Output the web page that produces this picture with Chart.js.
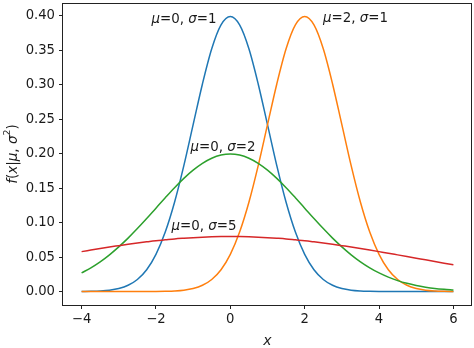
<!DOCTYPE html>
<html>
<head>
<meta charset="utf-8">
<script src="https://cdn.jsdelivr.net/npm/chart.js@4"></script>
<style>
  body { margin: 0; background: #fff; }
  canvas { display: block; }
</style>
</head>
<body>
<canvas id="pdfChart" width="474" height="348"></canvas>
<script>
// sample points along x
const xs = [-4, -3.75, -3.5, -3.25, -3, -2.75, -2.5, -2.25, -2, -1.75, -1.5, -1.25, -1, -0.75, -0.5, -0.25,
    0, 0.25, 0.5, 0.75, 1, 1.25, 1.5, 1.75, 2, 2.25, 2.5, 2.75, 3, 3.25, 3.5, 3.75, 4, 4.25, 4.5, 4.75,
    5, 5.25, 5.5, 5.75, 6];

// f(x) for each curve, same length as xs
const mu0sd1 = [0.0001, 0.0004, 0.0009, 0.002, 0.0044, 0.0091, 0.0175, 0.0317, 0.054, 0.0863, 0.1295, 0.1826,
    0.242, 0.3011, 0.3521, 0.3867, 0.3989, 0.3867, 0.3521, 0.3011, 0.242, 0.1826, 0.1295, 0.0863, 0.054,
    0.0317, 0.0175, 0.0091, 0.0044, 0.002, 0.0009, 0.0004, 0.0001, 0, 0, 0, 0, 0, 0, 0, 0];
const mu2sd1 = [0, 0, 0, 0, 0, 0, 0, 0, 0.0001, 0.0004, 0.0009, 0.002, 0.0044, 0.0091, 0.0175, 0.0317,
    0.054, 0.0863, 0.1295, 0.1826, 0.242, 0.3011, 0.3521, 0.3867, 0.3989, 0.3867, 0.3521, 0.3011, 0.242,
    0.1826, 0.1295, 0.0863, 0.054, 0.0317, 0.0175, 0.0091, 0.0044, 0.002, 0.0009, 0.0004, 0.0001];
const mu0sd2 = [0.027, 0.0344, 0.0431, 0.0533, 0.0648, 0.0775, 0.0913, 0.1059, 0.121, 0.136, 0.1506, 0.1641,
    0.176, 0.1859, 0.1933, 0.1979, 0.1995, 0.1979, 0.1933, 0.1859, 0.176, 0.1641, 0.1506, 0.136, 0.121,
    0.1059, 0.0913, 0.0775, 0.0648, 0.0533, 0.0431, 0.0344, 0.027, 0.0209, 0.0159, 0.0119, 0.0088, 0.0064,
    0.0045, 0.0032, 0.0022];
const mu0sd5 = [0.0579, 0.0602, 0.0625, 0.0646, 0.0666, 0.0686, 0.0704, 0.0721, 0.0737, 0.075, 0.0763, 0.0773,
    0.0782, 0.0789, 0.0794, 0.0797, 0.0798, 0.0797, 0.0794, 0.0789, 0.0782, 0.0773, 0.0763, 0.075, 0.0737,
    0.0721, 0.0704, 0.0686, 0.0666, 0.0646, 0.0625, 0.0602, 0.0579, 0.0556, 0.0532, 0.0508, 0.0484, 0.046,
    0.0436, 0.0412, 0.0388];

const xTicks = [-4, -2, 0, 2, 4, 6];
const yTicks = [0, 0.05, 0.1, 0.15, 0.2, 0.25, 0.3, 0.35, 0.4];

// curve labels: [mu, sigma, x, y] in data units (left edge, vertical middle)
const notes = [
    ['0', '1', -2.12, 0.395],
    ['2', '1', 2.49, 0.396],
    ['0', '2', -1.07, 0.209],
    ['0', '5', -1.58, 0.095]
];

const FONT = '"DejaVu Sans", sans-serif';
const INK = '#1a1a1a';

function pts(ys) {
    return xs.map((x, i) => ({ x: x, y: ys[i] }));
}

// draws a run of text pieces, each with its own style; returns total width
function drawRuns(ctx, runs, x, y, size, measureOnly) {
    let w = 0;
    for (const r of runs) {
        const s = r.sup ? size * 0.7 : size;
        ctx.font = (r.it ? 'italic ' : '') + s + 'px ' + FONT;
        if (!measureOnly) ctx.fillText(r.t, x + w, r.sup ? y - size * 0.38 : y);
        w += ctx.measureText(r.t).width;
    }
    return w;
}

const textPlugin = {
    id: 'textPlugin',
    afterDraw(chart) {
        const ctx = chart.ctx;
        const a = chart.chartArea;
        const sx = chart.scales.x, sy = chart.scales.y;
        ctx.save();
        // full box around the plot
        ctx.strokeStyle = '#222';
        ctx.lineWidth = 1;
        ctx.strokeRect(Math.round(a.left) - 0.5, Math.round(a.top) + 0.5,
            Math.round(a.right - a.left), Math.round(a.bottom - a.top));

        ctx.fillStyle = INK;
        ctx.textBaseline = 'middle';
        ctx.textAlign = 'left';
        for (const n of notes) {
            const runs = [
                { t: 'μ', it: true }, { t: '=' + n[0] + ', ' }, { t: 'σ', it: true }, { t: '=' + n[1] }
            ];
            drawRuns(ctx, runs, sx.getPixelForValue(n[2]), sy.getPixelForValue(n[3]), 13.4);
        }

        // x axis title
        ctx.font = 'italic 14px ' + FONT;
        ctx.textAlign = 'center';
        ctx.fillText('x', (a.left + a.right) / 2, 341);

        // y axis title, rotated
        const yRuns = [
            { t: 'f', it: true }, { t: '(' }, { t: 'x', it: true }, { t: '|' }, { t: 'μ', it: true },
            { t: ', ' }, { t: 'σ', it: true }, { t: '2', sup: true }, { t: ')' }
        ];
        ctx.textAlign = 'left';
        const w = drawRuns(ctx, yRuns, 0, 0, 13.5, true);
        ctx.translate(13, (a.top + a.bottom) / 2);
        ctx.rotate(-Math.PI / 2);
        drawRuns(ctx, yRuns, -w / 2, 0, 13.5);
        ctx.restore();
    }
};

const line = (label, ys, color, order) => ({
    label: label,
    data: pts(ys),
    borderColor: color,
    borderWidth: 1.5,
    pointRadius: 0,
    cubicInterpolationMode: 'monotone',
    fill: false,
    order: order
});

const ctx = document.getElementById('pdfChart').getContext('2d');
const pdfChart = new Chart(ctx, {
    type: 'line',
    data: {
        datasets: [
            line('μ=0, σ=1', mu0sd1, '#1f77b4', 4),
            line('μ=2, σ=1', mu2sd1, '#ff7f0e', 3),
            line('μ=0, σ=2', mu0sd2, '#2ca02c', 2),
            line('μ=0, σ=5', mu0sd5, '#d62728', 1)
        ]
    },
    options: {
        responsive: false,
        animation: false,
        layout: { padding: { top: 3, right: 2, left: 0, bottom: 0 } },
        scales: {
            x: {
                type: 'linear',
                min: -4.5,
                max: 6.5,
                afterBuildTicks: s => { s.ticks = xTicks.map(v => ({ value: v })); },
                afterFit: s => { s.height = 43; s.paddingLeft = 0; s.paddingRight = 0; },
                border: { display: false },
                grid: { drawOnChartArea: false, tickLength: 4, color: '#222', tickWidth: 1 },
                ticks: {
                    color: INK,
                    padding: 3,
                    maxRotation: 0,
                    font: { family: FONT, size: 13.2 },
                    callback: v => v < 0 ? '\u2212' + Math.abs(v) : String(v)
                }
            },
            y: {
                min: -0.0195,
                max: 0.4185,
                afterBuildTicks: s => { s.ticks = yTicks.map(v => ({ value: v })); },
                afterFit: s => { s.width = 63; s.paddingTop = 0; s.paddingBottom = 0; },
                border: { display: false },
                grid: { drawOnChartArea: false, tickLength: 4, color: '#222', tickWidth: 1 },
                ticks: {
                    color: INK,
                    padding: 4,
                    font: { family: FONT, size: 13.2 },
                    callback: v => v.toFixed(2)
                }
            }
        },
        plugins: {
            legend: { display: false },
            tooltip: { enabled: false }
        }
    },
    plugins: [textPlugin]
});
</script>
</body>
</html>
